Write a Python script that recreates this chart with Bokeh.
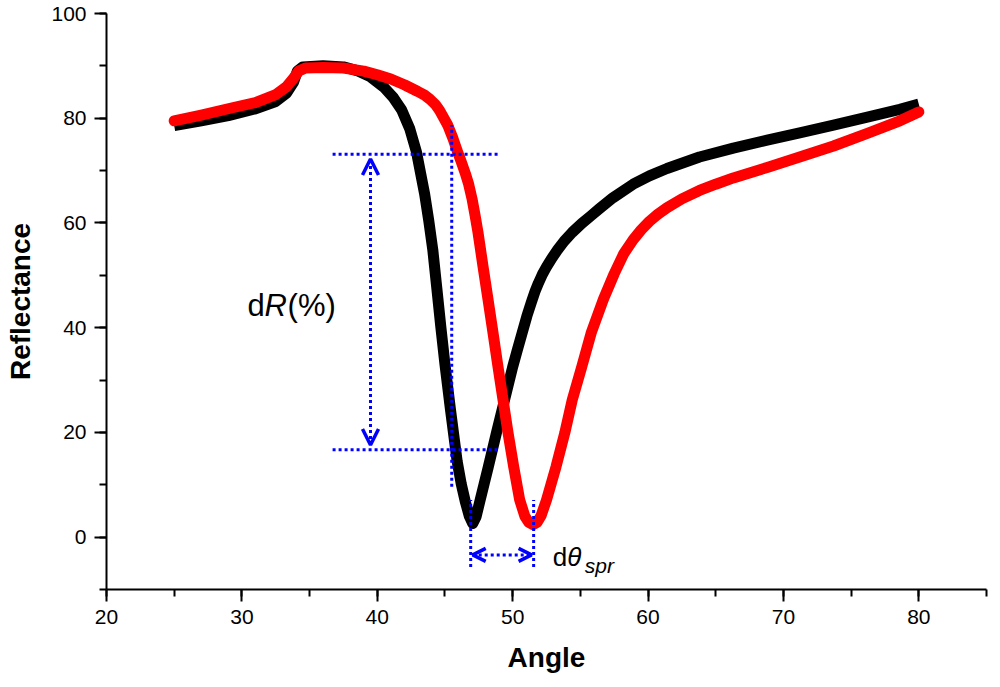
#
# SPR reflectance curves: dip shift between two samples
#
from bokeh.plotting import figure
from bokeh.models import Arrow, OpenHead, Label, Range1d, SingleIntervalTicker
from bokeh.embed import file_html
from bokeh.resources import INLINE

# Black curve (first sample)
black_angle = [25.0, 27.0, 29.0, 31.0, 32.5, 33.3, 33.8, 34.1, 34.5, 36.0, 37.5, 38.5,
               39.5, 40.5, 41.2, 41.8, 42.4, 42.9, 43.5, 43.8, 44.1, 44.4, 44.7, 45.0,
               45.4, 45.9, 46.2, 46.5, 46.8, 47.05, 47.3, 47.6, 48.2, 48.8, 49.4, 50.0,
               50.35, 50.7, 51.05, 51.4, 51.65, 51.9, 52.2, 52.5, 52.9, 53.3, 53.8, 54.4,
               55.1, 55.8, 56.4, 57.4, 58.9, 60.1, 61.4, 63.8, 66.3, 68.8, 71.2, 73.7,
               76.2, 78.6, 80.0]
black_refl = [78.6, 79.5, 80.5, 81.8, 83.2, 84.8, 86.8, 89.0, 89.8, 90.0, 89.8, 89.1,
              87.9, 85.9, 83.9, 81.6, 78.0, 73.5, 65.5, 60.5, 54.9, 47.5, 40.0, 33.0,
              24.5, 14.5, 10.2, 6.8, 4.0, 2.6, 3.9, 7.1, 13.4, 19.9, 26.2, 32.5,
              35.8, 39.0, 42.2, 45.0, 46.9, 48.5, 50.2, 51.6, 53.3, 54.8, 56.5, 58.2,
              59.9, 61.4, 62.7, 64.8, 67.4, 69.0, 70.4, 72.6, 74.3, 75.8, 77.2, 78.7,
              80.2, 81.7, 82.7]

# Red curve (second sample)
red_angle = [25.0, 27.0, 29.3, 31.0, 32.5, 33.3, 33.8, 34.2, 34.7, 36.0, 37.5, 39.0,
             40.0, 41.0, 42.0, 43.0, 43.5, 43.9, 44.3, 44.6, 45.2, 45.6, 45.9, 46.2,
             46.5, 46.75, 47.0, 47.22, 47.44, 47.81, 48.18, 48.55, 48.92, 49.29, 49.66, 50.08,
             50.52, 50.9, 51.2, 51.5, 51.8, 52.1, 52.5, 53.2, 53.85, 54.4, 55.1, 55.8,
             56.7, 57.5, 58.2, 58.9, 59.5, 60.1, 60.7, 61.4, 62.5, 63.8, 65.0, 66.3,
             68.8, 71.2, 73.7, 76.2, 78.6, 80.0]
red_refl = [79.5, 80.6, 82.0, 83.0, 84.5, 86.0, 87.6, 89.0, 89.6, 89.7, 89.6, 89.0,
            88.3, 87.5, 86.4, 85.1, 84.4, 83.6, 82.6, 81.5, 78.7, 76.1, 73.8, 71.7,
            69.5, 67.4, 64.6, 61.5, 58.2, 51.7, 45.4, 39.0, 32.5, 26.2, 19.9, 13.4,
            7.1, 4.0, 2.8, 2.4, 2.8, 4.1, 7.1, 13.4, 19.9, 26.2, 32.5, 39.0,
            45.4, 50.3, 54.1, 56.8, 58.7, 60.3, 61.6, 62.9, 64.6, 66.2, 67.4, 68.6,
            70.6, 72.6, 74.7, 77.1, 79.5, 81.2]

# Annotation values (dR and d-theta markers)
dr_levels = [73.1, 16.7]
dr_span = [36.7, 49.1]
dr_arrow_x = 39.5
dr_arrow_y = [17.6, 72.2]
cut_x = 45.5
cut_y = [9.6, 78.7]
min_x = [46.9, 51.55]
min_y = [-5.7, 7.1]
dt_arrow_x = [47.05, 51.4]
dt_arrow_y = -3.4

BLUE = "#0000FF"
FONT = "Liberation Sans"

p = figure(width=996, height=683, output_backend="svg", toolbar_location=None,
           x_range=Range1d(20, 85), y_range=Range1d(-10, 100),
           min_border_left=106, min_border_right=10, min_border_top=13, min_border_bottom=94,
           x_axis_label="Angle", y_axis_label="Reflectance")
p.grid.visible = False
p.outline_line_color = None
p.background_fill_color = "white"

p.xaxis.ticker = SingleIntervalTicker(interval=10, num_minor_ticks=2)
p.yaxis.ticker = SingleIntervalTicker(interval=20, num_minor_ticks=2)
for ax in [p.xaxis, p.yaxis]:
    ax.axis_line_width = 2
    ax.axis_line_color = "black"
    ax.major_tick_line_width = 2
    ax.minor_tick_line_width = 2
    ax.major_tick_line_color = "black"
    ax.minor_tick_line_color = "black"
    ax.major_tick_in = 0
    ax.minor_tick_in = 0
    ax.major_tick_out = 12
    ax.minor_tick_out = 7
    ax.major_label_text_font = FONT
    ax.major_label_text_font_size = "21px"
    ax.major_label_text_color = "black"
    ax.major_label_standoff = 8
    ax.axis_label_text_font = FONT
    ax.axis_label_text_font_size = "28px"
    ax.axis_label_text_font_style = "bold"
    ax.axis_label_text_color = "black"
p.xaxis.axis_label_standoff = 15
p.yaxis.axis_label_standoff = 12

# the two curves
p.line(black_angle, black_refl, line_color="black", line_width=11,
       line_cap="butt", line_join="round")
p.line(red_angle, red_refl, line_color="#FF0000", line_width=11,
       line_cap="round", line_join="round")

# dotted guide lines
for lev in dr_levels:
    p.line(dr_span, [lev, lev], line_color=BLUE, line_width=3, line_dash="3 3")
p.line([cut_x, cut_x], cut_y, line_color=BLUE, line_width=3, line_dash="3 3")
for mx in min_x:
    p.line([mx, mx], min_y, line_color=BLUE, line_width=3, line_dash="3 3")

# double arrows
p.add_layout(Arrow(x_start=dr_arrow_x, y_start=dr_arrow_y[0], x_end=dr_arrow_x, y_end=dr_arrow_y[1],
                   line_color=BLUE, line_width=3, line_dash="3 3",
                   start=OpenHead(size=16, line_color=BLUE, line_width=3.5),
                   end=OpenHead(size=16, line_color=BLUE, line_width=3.5)))
p.add_layout(Arrow(x_start=dt_arrow_x[0], y_start=dt_arrow_y, x_end=dt_arrow_x[1], y_end=dt_arrow_y,
                   line_color=BLUE, line_width=3, line_dash="3 3",
                   start=OpenHead(size=13, line_color=BLUE, line_width=3.5),
                   end=OpenHead(size=13, line_color=BLUE, line_width=3.5)))

def add_text(txt, x, y, dx, size, style="normal"):
    p.add_layout(Label(x=x, y=y, x_offset=dx, text=txt, text_font=FONT,
                       text_font_size=size, text_font_style=style, text_color="black",
                       text_align="left", text_baseline="alphabetic"))

# dR(%) label, R in italics
add_text("d", 30.42, 44.2, 0, "31px")
add_text("R", 30.42, 44.2, 17, "31px", "italic")
add_text("(%)", 30.42, 44.2, 40, "31px")

# d-theta_spr label
add_text("d", 52.96, -3.8, 0, "26px")
add_text("\u03b8", 52.96, -3.8, 14.5, "26px", "italic")
add_text("spr", 52.96, -5.4, 32, "21px", "italic")

open("out.html", "w").write(file_html(p, INLINE))
